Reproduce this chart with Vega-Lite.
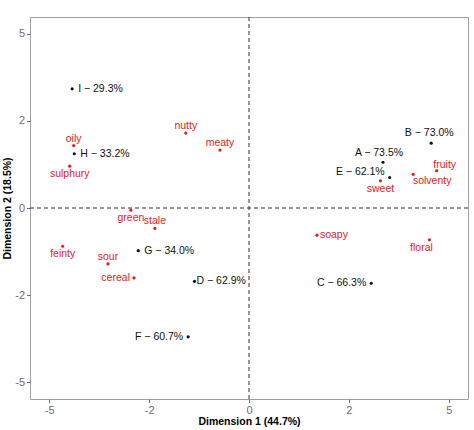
{
  "$schema": "https://vega.github.io/schema/vega-lite/v6.json",
  "autosize": "none",
  "width": 438,
  "height": 382,
  "padding": {"left": 30, "top": 17, "right": 6, "bottom": 31},
  "config": {
    "view": {"stroke": "#a0a0a0", "strokeWidth": 1},
    "font": "Liberation Sans",
    "axis": {
      "grid": false, "domain": false,
      "tickColor": "#6e6e6e", "tickSize": 3.5,
      "labelColor": "#6e6e6e", "labelFontSize": 11, "labelFont": "Liberation Sans", "labelPadding": 2,
      "titleFont": "Liberation Sans", "titleFontSize": 10.5, "titleFontWeight": "bold", "titleColor": "black"
    }
  },
  "datasets": {
    "pts": [
      {"name": "I", "label": "I − 29.3%", "group": "product", "x": -4.20, "y": 2.97},
      {"name": "H", "label": "H − 33.2%", "group": "product", "x": -4.13, "y": 1.15},
      {"name": "B", "label": "B − 73.0%", "group": "product", "x": 4.38, "y": 1.41},
      {"name": "A", "label": "A − 73.5%", "group": "product", "x": 2.89, "y": 0.95},
      {"name": "E", "label": "E − 62.1%", "group": "product", "x": 3.08, "y": 0.61},
      {"name": "G", "label": "G − 34.0%", "group": "product", "x": -2.27, "y": -0.88},
      {"name": "D", "label": "D − 62.9%", "group": "product", "x": -0.99, "y": -1.63},
      {"name": "F", "label": "F − 60.7%", "group": "product", "x": -1.12, "y": -3.29},
      {"name": "C", "label": "C − 66.3%", "group": "product", "x": 2.57, "y": -1.68},
      {"name": "oily", "label": "oily", "group": "attribute", "x": -4.15, "y": 1.35},
      {"name": "sulphury", "label": "sulphury", "group": "attribute", "x": -4.28, "y": 0.86},
      {"name": "nutty", "label": "nutty", "group": "attribute", "x": -1.17, "y": 1.67},
      {"name": "meaty", "label": "meaty", "group": "attribute", "x": -0.50, "y": 1.24},
      {"name": "sweet", "label": "sweet", "group": "attribute", "x": 2.82, "y": 0.54},
      {"name": "solventy", "label": "solventy", "group": "attribute", "x": 3.79, "y": 0.68},
      {"name": "fruity", "label": "fruity", "group": "attribute", "x": 4.57, "y": 0.76},
      {"name": "green", "label": "green", "group": "attribute", "x": -2.46, "y": -0.04},
      {"name": "stale", "label": "stale", "group": "attribute", "x": -1.86, "y": -0.40},
      {"name": "feinty", "label": "feinty", "group": "attribute", "x": -4.52, "y": -0.78},
      {"name": "sour", "label": "sour", "group": "attribute", "x": -3.09, "y": -1.19},
      {"name": "cereal", "label": "cereal", "group": "attribute", "x": -2.38, "y": -1.54},
      {"name": "soapy", "label": "soapy", "group": "attribute", "x": 1.27, "y": -0.54},
      {"name": "floral", "label": "floral", "group": "attribute", "x": 4.32, "y": -0.64}
    ],
    "zero": [{"x": 0, "y": 0}]
  },
  "layer": [
    {
      "data": {"name": "zero"},
      "mark": {"type": "rule", "strokeDash": [4, 3], "color": "#333333", "strokeWidth": 1},
      "encoding": {"x": {"field": "x", "type": "quantitative"}}
    },
    {
      "data": {"name": "zero"},
      "mark": {"type": "rule", "strokeDash": [4, 3], "color": "#333333", "strokeWidth": 1},
      "encoding": {"y": {"field": "y", "type": "quantitative"}}
    },
    {
      "data": {"name": "pts"},
      "mark": {"type": "circle", "size": 10, "opacity": 1},
      "encoding": {
        "x": {"field": "x", "type": "quantitative",
          "scale": {"type": "symlog", "constant": 4, "domain": [-5.73, 5.73], "nice": false, "zero": false},
          "axis": {"values": [-5, -2, 0, 2, 5], "labelExpr": "datum.value + ''", "title": "Dimension 1 (44.7%)", "titlePadding": 1}},
        "y": {"field": "y", "type": "quantitative",
          "scale": {"type": "symlog", "constant": 4, "domain": [-5.74, 5.74], "nice": false, "zero": false},
          "axis": {"values": [-5, -2, 0, 2, 5], "labelExpr": "datum.value + ''", "title": "Dimension 2 (18.5%)", "titlePadding": 2}},
        "color": {"field": "group", "type": "nominal", "scale": {"domain": ["product", "attribute"], "range": ["#111111", "#e41a1c"]}, "legend": null}
      }
    },
    {
      "data": {"name": "pts"},
      "transform": [{"filter": {"field": "name", "oneOf": ["I", "H", "G"]}}],
      "mark": {"type": "text", "align": "left", "baseline": "middle", "dx": 6, "fontSize": 10.5},
      "encoding": {"x": {"field": "x", "type": "quantitative"}, "y": {"field": "y", "type": "quantitative"}, "text": {"field": "label"}, "color": {"field": "group", "type": "nominal", "legend": null}}
    },
    {
      "data": {"name": "pts"},
      "transform": [{"filter": {"field": "name", "oneOf": ["D"]}}],
      "mark": {"type": "text", "align": "left", "baseline": "middle", "dx": 2, "fontSize": 10.5},
      "encoding": {"x": {"field": "x", "type": "quantitative"}, "y": {"field": "y", "type": "quantitative"}, "text": {"field": "label"}, "color": {"field": "group", "type": "nominal", "legend": null}}
    },
    {
      "data": {"name": "pts"},
      "transform": [{"filter": {"field": "name", "oneOf": ["F", "C"]}}],
      "mark": {"type": "text", "align": "right", "baseline": "middle", "dx": -5, "fontSize": 10.5},
      "encoding": {"x": {"field": "x", "type": "quantitative"}, "y": {"field": "y", "type": "quantitative"}, "text": {"field": "label"}, "color": {"field": "group", "type": "nominal", "legend": null}}
    },
    {
      "data": {"name": "pts"},
      "transform": [{"filter": {"field": "name", "oneOf": ["E"]}}],
      "mark": {"type": "text", "align": "right", "baseline": "middle", "dx": -5, "dy": -6, "fontSize": 10.5},
      "encoding": {"x": {"field": "x", "type": "quantitative"}, "y": {"field": "y", "type": "quantitative"}, "text": {"field": "label"}, "color": {"field": "group", "type": "nominal", "legend": null}}
    },
    {
      "data": {"name": "pts"},
      "transform": [{"filter": {"field": "name", "oneOf": ["B"]}}],
      "mark": {"type": "text", "align": "center", "baseline": "middle", "dx": -2, "dy": -10, "fontSize": 10.5},
      "encoding": {"x": {"field": "x", "type": "quantitative"}, "y": {"field": "y", "type": "quantitative"}, "text": {"field": "label"}, "color": {"field": "group", "type": "nominal", "legend": null}}
    },
    {
      "data": {"name": "pts"},
      "transform": [{"filter": {"field": "name", "oneOf": ["A"]}}],
      "mark": {"type": "text", "align": "center", "baseline": "middle", "dx": -4, "dy": -9, "fontSize": 10.5},
      "encoding": {"x": {"field": "x", "type": "quantitative"}, "y": {"field": "y", "type": "quantitative"}, "text": {"field": "label"}, "color": {"field": "group", "type": "nominal", "legend": null}}
    },
    {
      "data": {"name": "pts"},
      "transform": [{"filter": {"field": "name", "oneOf": ["oily", "nutty", "meaty", "stale", "sour"]}}],
      "mark": {"type": "text", "align": "center", "baseline": "middle", "dy": -7, "fontSize": 10.5},
      "encoding": {"x": {"field": "x", "type": "quantitative"}, "y": {"field": "y", "type": "quantitative"}, "text": {"field": "label"}, "color": {"field": "group", "type": "nominal", "legend": null}}
    },
    {
      "data": {"name": "pts"},
      "transform": [{"filter": {"field": "name", "oneOf": ["sulphury", "sweet", "green", "feinty"]}}],
      "mark": {"type": "text", "align": "center", "baseline": "middle", "dy": 8, "fontSize": 10.5},
      "encoding": {"x": {"field": "x", "type": "quantitative"}, "y": {"field": "y", "type": "quantitative"}, "text": {"field": "label"}, "color": {"field": "group", "type": "nominal", "legend": null}}
    },
    {
      "data": {"name": "pts"},
      "transform": [{"filter": {"field": "name", "oneOf": ["solventy"]}}],
      "mark": {"type": "text", "align": "center", "baseline": "middle", "dx": 19, "dy": 7, "fontSize": 10.5},
      "encoding": {"x": {"field": "x", "type": "quantitative"}, "y": {"field": "y", "type": "quantitative"}, "text": {"field": "label"}, "color": {"field": "group", "type": "nominal", "legend": null}}
    },
    {
      "data": {"name": "pts"},
      "transform": [{"filter": {"field": "name", "oneOf": ["fruity"]}}],
      "mark": {"type": "text", "align": "center", "baseline": "middle", "dx": 8, "dy": -6, "fontSize": 10.5},
      "encoding": {"x": {"field": "x", "type": "quantitative"}, "y": {"field": "y", "type": "quantitative"}, "text": {"field": "label"}, "color": {"field": "group", "type": "nominal", "legend": null}}
    },
    {
      "data": {"name": "pts"},
      "transform": [{"filter": {"field": "name", "oneOf": ["floral"]}}],
      "mark": {"type": "text", "align": "center", "baseline": "middle", "dx": -8, "dy": 8, "fontSize": 10.5},
      "encoding": {"x": {"field": "x", "type": "quantitative"}, "y": {"field": "y", "type": "quantitative"}, "text": {"field": "label"}, "color": {"field": "group", "type": "nominal", "legend": null}}
    },
    {
      "data": {"name": "pts"},
      "transform": [{"filter": {"field": "name", "oneOf": ["cereal"]}}],
      "mark": {"type": "text", "align": "right", "baseline": "middle", "dx": -4, "fontSize": 10.5},
      "encoding": {"x": {"field": "x", "type": "quantitative"}, "y": {"field": "y", "type": "quantitative"}, "text": {"field": "label"}, "color": {"field": "group", "type": "nominal", "legend": null}}
    },
    {
      "data": {"name": "pts"},
      "transform": [{"filter": {"field": "name", "oneOf": ["soapy"]}}],
      "mark": {"type": "text", "align": "left", "baseline": "middle", "dx": 3, "fontSize": 10.5},
      "encoding": {"x": {"field": "x", "type": "quantitative"}, "y": {"field": "y", "type": "quantitative"}, "text": {"field": "label"}, "color": {"field": "group", "type": "nominal", "legend": null}}
    }
  ]
}
